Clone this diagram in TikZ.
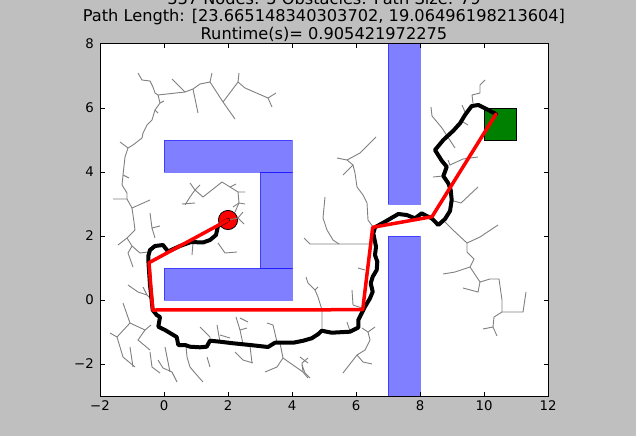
\documentclass[tikz,border=0pt]{standalone}
\usepackage{fontspec}
\setmainfont{DejaVu Sans}
\begin{document}
\begin{tikzpicture}[x=1pt,y=-1pt,
  tree/.style={draw={rgb,255:red,128;green,128;blue,128}, line width=0.9pt},
  obst/.style={fill=blue, fill opacity=0.5, draw=blue, draw opacity=0.5, line width=1pt},
  bpath/.style={draw=black, line width=4pt, line join=round, line cap=round},
  rpath/.style={draw=red, line width=3.5pt, line join=round, line cap=round},
  tick/.style={draw=black, line width=0.8pt},
  ticklab/.style={font=\fontsize{13.3}{15}\selectfont, inner sep=0pt},
  titlab/.style={font=\fontsize{16.2}{19}\selectfont, inner sep=0pt, anchor=base},
  startdot/.style={circle, fill=red, draw=black, line width=0.8pt, minimum size=19.2pt, inner sep=0pt},
  goalbox/.style={rectangle, fill={rgb,255:red,0;green,128;blue,0}, draw=black, line width=1pt, minimum size=32pt, inner sep=0pt}
]
% background
\fill[fill={rgb,255:red,191;green,191;blue,191}] (0,0) rectangle (636,436);
\useasboundingbox (0,0) rectangle (636,436);
\clip (0,0) rectangle (636,436);
\fill[white] (100,44) rectangle (548,396);

% title
\node[titlab] (t1) at (324,4.5) {337 Nodes: 5 Obstacles: Path Size: 79};
\node[titlab] (t2) at (324,22) {Path Length: [23.665148340303702, 19.06496198213604]};
\node[titlab] (t3) at (324,39.5) {Runtime(s)= 0.905421972275};

% obstacles
\draw[obst] (164,140) rectangle (292,172);
\draw[obst] (260,172) rectangle (292,268);
\draw[obst] (164,268) rectangle (292,300);
\draw[obst] (388,44) rectangle (420,204);
\draw[obst] (388,236) rectangle (420,396);

% start and goal
\node[startdot] (start) at (228,220) {};
\node[goalbox] (goal) at (500,124) {};
\coordinate (gpt) at (496,114);

% tree
\draw[tree] (138,73)--(142,80)--(150,81)--(153,87)--(155,93)--(158,95)--(185,92)--(193,89)--(200,84)--(210,82)--(223,102)--(235,119);
\draw[tree] (172,79)--(185,92);
\draw[tree] (193,89)--(198,113);
\draw[tree] (210,82)--(212,73);
\draw[tree] (223,102)--(238,82)--(239,73);
\draw[tree] (238,82)--(245,88)--(268,98)--(276,93);
\draw[tree] (268,98)--(272,107);
\draw[tree] (158,95)--(160,103)--(155,110)--(152,120)--(147,125)--(143,133)--(142,138)--(133,145)--(128,148)--(125,157)--(123,175)--(122,185)--(127,193)--(127,199);
\draw[tree] (160,103)--(164,101);
\draw[tree] (155,110)--(158,113);
\draw[tree] (128,148)--(120,142);
\draw[tree] (123,175)--(129,178);
\draw[tree] (113,199)--(127,199)--(132,208)--(150,200);
\draw[tree] (132,208)--(134,222)--(135,230)--(127,238)--(118,245);
\draw[tree] (127,238)--(132,246)--(140,253)--(148,252);
\draw[tree] (132,246)--(128,253)--(133,267);
\draw[tree] (150,213)--(152,228)--(160,226);
\draw[tree] (152,228)--(155,238);
\draw[tree] (128,285)--(138,292)--(147,295)--(152,300);
\draw[tree] (143,287)--(147,295);
\draw[tree] (123,303)--(130,323)--(117,337)--(120,347)--(123,357)--(135,367);
\draw[tree] (130,323)--(145,330)--(138,340)--(150,350);
\draw[tree] (145,330)--(151,325);
\draw[tree] (117,337)--(110,333);
\draw[tree] (130,347)--(133,367);
\draw[tree] (150,352)--(152,367)--(160,373);
\draw[tree] (165,347)--(170,372);
\draw[tree] (158,360)--(163,368)--(172,372)--(177,382);
\draw[tree] (186,346)--(187,357)--(190,367)--(195,373)--(203,382);
\draw[tree] (207,357)--(210,367);
\draw[tree] (200,327)--(210,337)--(210,341);
\draw[tree] (217,325)--(220,342);
\draw[tree] (220,335)--(230,338);
\draw[tree] (236,317)--(240,330)--(243,344);
\draw[tree] (240,330)--(247,328);
\draw[tree] (235,352)--(243,360)--(253,363);
\draw[tree] (240,318)--(248,322);
\draw[tree] (250,346)--(252,363);
\draw[tree] (267,323)--(273,325)--(277,342);
\draw[tree] (280,343)--(283,358)--(277,367)--(265,372);
\draw[tree] (283,358)--(293,365)--(303,372)--(308,378);
\draw[tree] (303,372)--(302,363)--(308,358);
% near start and middle
\draw[tree] (228,220)--(238,218)--(243,212);
\draw[tree] (238,218)--(244,224);
\draw[tree] (218,243)--(225,253)--(237,252);
\draw[tree] (193,243)--(192,255);
\draw[tree] (190,183)--(195,190)--(203,197)--(222,182)--(230,187)--(238,192)--(245,192);
\draw[tree] (195,190)--(200,185);
\draw[tree] (195,190)--(190,197)--(185,205);
\draw[tree] (182,204)--(195,203);
\draw[tree] (230,187)--(236,184);
\draw[tree] (238,192)--(239,203)--(233,207);
\draw[tree] (239,203)--(245,204);
\draw[tree] (239,203)--(235,212);
% middle column
\draw[tree] (376,137)--(360,153)--(347,160)--(337,158);
\draw[tree] (347,160)--(353,165)--(343,175);
\draw[tree] (353,165)--(355,173)--(357,187)--(363,195)--(367,203)--(368,220)--(373,227);
\draw[tree] (325,197)--(323,218)--(327,230)--(333,240)--(339,244)--(371,244);
\draw[tree] (304,238)--(310,244)--(339,244);
\draw[tree] (306,277)--(308,283)--(315,290)--(318,297)--(322,310)--(322,330);
\draw[tree] (315,290)--(318,287);
\draw[tree] (352,290)--(353,305)--(362,308);
\draw[tree] (358,268)--(365,270);
\draw[tree] (347,322)--(350,331);
\draw[tree] (362,328)--(368,332)--(375,327);
\draw[tree] (368,332)--(370,340)--(365,350)--(357,355)--(343,373);
\draw[tree] (357,355)--(363,362)--(372,364);
\draw[tree] (300,357)--(308,363);
\draw[tree] (302,365)--(305,373)--(310,378);
% right side
\draw[tree] (473,103)--(472,95)--(480,93)--(480,85)--(485,80);
\draw[tree] (431,107)--(432,116)--(442,128)--(455,148);
\draw[tree] (462,105)--(465,112);
\draw[tree] (463,122)--(468,125);
\draw[tree] (448,160)--(450,165)--(463,159)--(478,157);
\draw[tree] (433,177)--(443,176)--(447,166);
\draw[tree] (450,200)--(461,203)--(478,187);
\draw[tree] (445,222)--(453,230)--(467,243)--(467,252)--(474,259)--(470,267)--(455,272)--(443,274);
\draw[tree] (467,243)--(480,237)--(498,225);
\draw[tree] (470,267)--(480,282)--(478,292)--(463,288);
\draw[tree] (480,282)--(490,279)--(499,279)--(502,300)--(502,312)--(523,312)--(526,292);
\draw[tree] (502,312)--(494,317)--(493,327)--(483,329);
\draw[tree] (493,327)--(497,336);

% black path
\draw[bpath] (start.center)--(218,226)--(216,235)--(210,240)--(203,242.5)--(191,242)--(180,246)--(168,251.5)--(163,245)--(155,246)--(150,250)--(148.3,256)--(148.5,263)--(150,285)--(152.7,310)--(156.7,315)--(160,317)--(158.3,326.7)--(165,330)--(171.7,334)--(176.7,337)--(178.3,345)--(185,345)--(190,346.7)--(200,347.3)--(206.7,346.7)--(210,340.7)--(220,341.7)--(233.3,343.3)--(250,345)--(268,347)--(275,342.7)--(293.3,342.7)--(303.3,340.7)--(311.7,338.3)--(318.3,334)--(321.7,330.7)--(331.7,332.7)--(350,331.7)--(358.3,327.5)--(358.3,320)--(361.7,313.3)--(365,306.7)--(370,298.3)--(372.7,291.7)--(370.7,283.3)--(372.7,276.7)--(376.7,270)--(377.3,261.7)--(375,255)--(376,246.7)--(373.3,233.3)--(375,227.3)--(385,221.7)--(398.3,214)--(406.7,215)--(415,218.3)--(421.7,213.3)--(426.7,216)--(431.7,218.3)--(438.3,225)--(445,219)--(450,211)--(451.7,200)--(450.7,190)--(448.3,183.3)--(443.3,176)--(445,171.7)--(446.7,166.7)--(441.7,160.7)--(435,150)--(443.3,140)--(453.3,130.7)--(460,123.3)--(465,115)--(471.7,106)--(478.3,105)--(485,108.3)--(gpt);

% red path
\draw[rpath] (start.center)--(149,262.7)--(152.7,310)--(362.7,309.7)--(372.7,227.3)--(432,216.7)--(gpt);

% axes frame
\draw[black, line width=1pt] (100,44) rectangle (548,396);
% ticks
\foreach \xx in {164,228,292,356,420,484} {
  \draw[tick] (\xx,396)--(\xx,391.5);
  \draw[tick] (\xx,44)--(\xx,48.5);
}
\foreach \yy in {364,300,236,172,108} {
  \draw[tick] (100,\yy)--(104.5,\yy);
  \draw[tick] (548,\yy)--(543.5,\yy);
}
% tick labels
\node[ticklab, anchor=base] (xl1) at (100,410) {−2};
\node[ticklab, anchor=base] (xl2) at (164,410) {0};
\node[ticklab, anchor=base] (xl3) at (228,410) {2};
\node[ticklab, anchor=base] (xl4) at (292,410) {4};
\node[ticklab, anchor=base] (xl5) at (356,410) {6};
\node[ticklab, anchor=base] (xl6) at (420,410) {8};
\node[ticklab, anchor=base] (xl7) at (484,410) {10};
\node[ticklab, anchor=base] (xl8) at (548,410) {12};
\node[ticklab, anchor=east] (yl1) at (94,364) {−2};
\node[ticklab, anchor=east] (yl2) at (94,300) {0};
\node[ticklab, anchor=east] (yl3) at (94,236) {2};
\node[ticklab, anchor=east] (yl4) at (94,172) {4};
\node[ticklab, anchor=east] (yl5) at (94,108) {6};
\node[ticklab, anchor=east] (yl6) at (94,44) {8};
\end{tikzpicture}
\end{document}
